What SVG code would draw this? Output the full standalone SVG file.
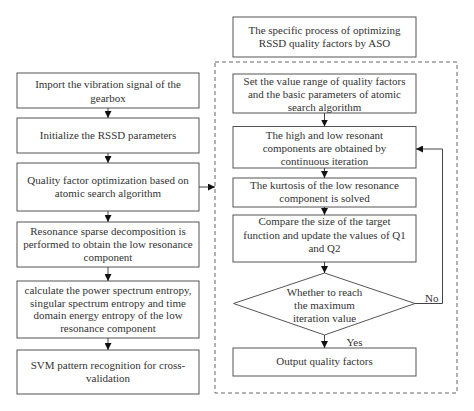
<svg xmlns="http://www.w3.org/2000/svg" width="474" height="411" viewBox="0 0 474 411">
<style>
.box{fill:#fff;stroke:#555;stroke-width:1}
.t{font-family:"Liberation Serif","Times New Roman",serif;font-size:11px;fill:#333;text-anchor:middle}
.tl{font-family:"Liberation Serif","Times New Roman",serif;font-size:11px;fill:#333}
.c{fill:none;stroke:#444;stroke-width:1}
.d{fill:none;stroke:#666;stroke-width:1;stroke-dasharray:4,3}
</style>
<defs>
<marker id="ah" viewBox="0 0 10 10" refX="10" refY="5" markerWidth="7" markerHeight="7" markerUnits="userSpaceOnUse" orient="auto">
<path d="M0,0 L10,5 L0,10 z" fill="#111"/>
</marker>
</defs>
<rect width="474" height="411" fill="#fff"/>
<rect class="d" x="215" y="62" width="242" height="331"/>

<g id="left1"><rect class="box" x="17" y="73" width="182" height="35"/><text class="t" x="108" y="88">Import the vibration signal of the</text><text class="t" x="108" y="101.5">gearbox</text></g>
<g id="left2"><rect class="box" x="17" y="118" width="182" height="35"/><text class="t" x="108" y="139">Initialize the RSSD parameters</text></g>
<g id="left3"><rect class="box" x="17" y="163" width="182" height="48"/><text class="t" x="108" y="184">Quality factor optimization based on</text><text class="t" x="108" y="196.7">atomic search algorithm</text></g>
<g id="left4"><rect class="box" x="17" y="222" width="182" height="45"/><text class="t" x="108" y="235">Resonance sparse decomposition is</text><text class="t" x="108" y="248">performed to obtain the low resonance</text><text class="t" x="108" y="261">component</text></g>
<g id="left5"><rect class="box" x="17" y="281" width="182" height="57"/><text class="t" x="108" y="294">calculate the power spectrum entropy,</text><text class="t" x="108" y="306.7">singular spectrum entropy and time</text><text class="t" x="108" y="319.3">domain energy entropy of the low</text><text class="t" x="108" y="332">resonance component</text></g>
<g id="left6"><rect class="box" x="17" y="350" width="182" height="44"/><text class="t" x="108" y="369">SVM pattern recognition for cross-</text><text class="t" x="108" y="381.5">validation</text></g>

<g id="title"><rect class="box" x="233" y="17" width="183" height="40"/><text class="t" x="324.5" y="34">The specific process of optimizing</text><text class="t" x="324.5" y="46.5">RSSD quality factors by ASO</text></g>
<g id="r1"><rect class="box" x="233" y="74" width="183" height="39"/><text class="t" x="324.5" y="85">Set the value range of quality factors</text><text class="t" x="324.5" y="98">and the basic parameters of atomic</text><text class="t" x="324.5" y="110.5">search algorithm</text></g>
<g id="r2"><rect class="box" x="233" y="126.5" width="183" height="41.5"/><text class="t" x="324.5" y="139">The high and low resonant</text><text class="t" x="324.5" y="152">components are obtained by</text><text class="t" x="324.5" y="164.5">continuous iteration</text></g>
<g id="r3"><rect class="box" x="233" y="178" width="183" height="29"/><text class="t" x="324.5" y="189">The kurtosis of the low resonance</text><text class="t" x="324.5" y="202">component is solved</text></g>
<g id="r4"><rect class="box" x="233" y="215" width="183" height="47"/><text class="t" x="324.5" y="225">Compare the size of the target</text><text class="t" x="324.5" y="238.5">function and update the values of Q1</text><text class="t" x="324.5" y="252">and Q2</text></g>
<g id="decision"><polygon class="box" points="324.5,273 415,303.5 324.5,335 233.5,303.5"/><text class="t" x="324.5" y="296">Whether to reach</text><text class="t" x="324.5" y="309">the maximum</text><text class="t" x="324.5" y="321.5">iteration value</text></g>
<g id="output"><rect class="box" x="233" y="348" width="183" height="28"/><text class="t" x="324.5" y="365">Output quality factors</text></g>

<g id="connectors">
<line class="c" x1="108" y1="108" x2="108" y2="118" marker-end="url(#ah)"/>
<line class="c" x1="108" y1="153" x2="108" y2="163" marker-end="url(#ah)"/>
<line class="c" x1="108" y1="211" x2="108" y2="222" marker-end="url(#ah)"/>
<line class="c" x1="108" y1="267" x2="108" y2="281" marker-end="url(#ah)"/>
<line class="c" x1="108" y1="338" x2="108" y2="350" marker-end="url(#ah)"/>
<line class="c" x1="199" y1="187" x2="215" y2="187" marker-end="url(#ah)"/>
<line class="c" x1="324.5" y1="113" x2="324.5" y2="126.5" marker-end="url(#ah)"/>
<line class="c" x1="324.5" y1="168" x2="324.5" y2="178" marker-end="url(#ah)"/>
<line class="c" x1="324.5" y1="207" x2="324.5" y2="215" marker-end="url(#ah)"/>
<line class="c" x1="324.5" y1="262" x2="324.5" y2="273" marker-end="url(#ah)"/>
<line class="c" x1="324.5" y1="335" x2="324.5" y2="348" marker-end="url(#ah)"/>
<polyline class="c" points="415,303.5 442.5,303.5 442.5,149 416,149" marker-end="url(#ah)"/>
</g>
<text class="tl" x="346.5" y="345.5">Yes</text>
<text class="tl" x="425" y="301.5">No</text>
</svg>
